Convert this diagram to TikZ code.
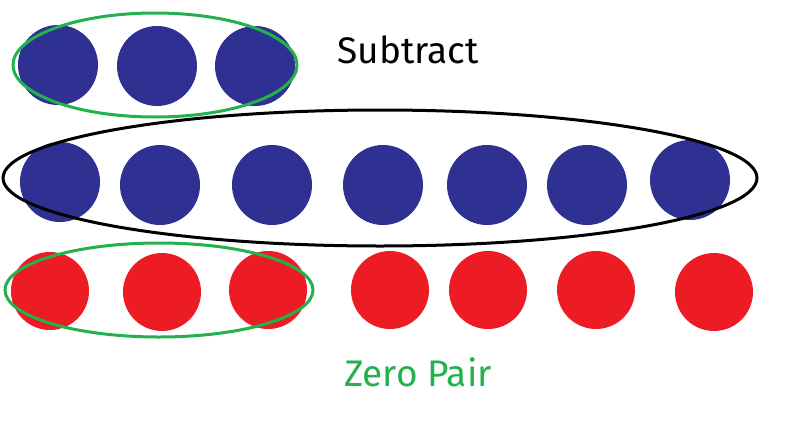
\documentclass[tikz,border=0pt]{standalone}
\usepackage{fontspec}
\setmainfont{Fira Sans}
\definecolor{pblue}{RGB}{46,49,146}
\definecolor{pred}{RGB}{237,28,36}
\definecolor{pgreen}{RGB}{34,177,76}
\begin{document}
\begin{tikzpicture}[x=1pt,y=-1pt,
  bc/.style={circle,fill=pblue,minimum size=80pt,inner sep=0pt},
  rc/.style={circle,fill=pred,minimum size=78pt,inner sep=0pt},
  ring/.style={line width=3pt},
  lbl/.style={font=\fontsize{37}{40}\selectfont}]
\useasboundingbox (0,0) rectangle (799,423);
\foreach \n/\x/\y in {a/58/65,b/157/66,c/255/66}
  \node[bc] (t\n) at (\x,\y) {};
\foreach \n/\x/\y in {a/60/182,b/160/185,c/272/185,d/383/185,e/487/185,f/587/185,g/690/180}
  \node[bc] (m\n) at (\x,\y) {};
\foreach \n/\x/\y in {a/50/291,b/162/292,c/268/290,d/390/290,e/488/290,f/596/290,g/714/292}
  \node[rc] (r\n) at (\x,\y) {};
\draw[ring,pgreen] (155,65) ellipse [x radius=142, y radius=52];
\draw[ring,black] (380,178) ellipse [x radius=377, y radius=68];
\draw[ring,pgreen] (159,290) ellipse [x radius=154, y radius=47];
\node[lbl] (sub) at (408,50) {Subtract};
\node[lbl,text=pgreen] (zp) at (418,372) {Zero Pair};
\end{tikzpicture}
\end{document}
